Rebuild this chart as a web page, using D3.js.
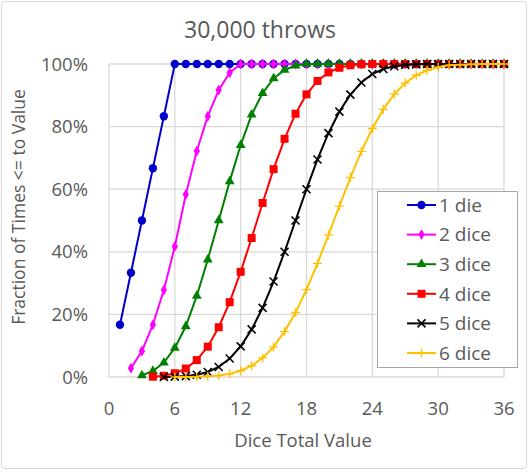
<!DOCTYPE html>
<html>
<head>
<meta charset="utf-8">
<script src="https://cdn.jsdelivr.net/npm/d3@7.9.0/dist/d3.min.js"></script>
<style>
  body { margin: 0; background: #fff; }
  svg { display: block; font-family: 'Open Sans', sans-serif; }
</style>
</head>
<body>
<svg id="chart" width="529" height="472"></svg>
<script>
// cumulative fraction (%) of throws with total <= value
const seriesNames = ['1 die', '2 dice', '3 dice', '4 dice', '5 dice', '6 dice'];
const startValues = [1, 2, 3, 4, 5, 6];
const oneDie = [16.7, 33.3, 50.0, 66.7, 83.3,
  100, 100, 100, 100, 100, 100, 100, 100, 100, 100, 100, 100, 100, 100, 100, 100,
  100, 100, 100, 100, 100, 100, 100, 100, 100, 100, 100, 100, 100, 100, 100];
const twoDice = [2.8, 8.3, 16.7, 27.8, 41.7, 58.3, 72.2, 83.3, 91.7, 97.2,
  100, 100, 100, 100, 100, 100, 100, 100, 100, 100, 100, 100, 100, 100, 100,
  100, 100, 100, 100, 100, 100, 100, 100, 100, 100];
const threeDice = [0.5, 1.9, 4.6, 9.3, 16.2, 25.9, 37.5, 50.0, 62.5, 74.1, 83.8, 90.7, 95.4, 98.1, 99.5,
  100, 100, 100, 100, 100, 100, 100, 100, 100, 100, 100, 100, 100, 100, 100, 100, 100, 100, 100];
const fourDice = [0.1, 0.4, 1.2, 2.7, 5.4, 9.7, 15.9, 23.9, 33.6, 44.4, 55.6, 66.4, 76.1, 84.1, 90.3,
  94.6, 97.3, 98.8, 99.6, 99.9,
  100, 100, 100, 100, 100, 100, 100, 100, 100, 100, 100, 100, 100];
const fiveDice = [0.0, 0.1, 0.3, 0.7, 1.6, 3.2, 5.9, 9.8, 15.2, 22.1, 30.5, 40.0, 50.0, 60.0, 69.5,
  77.9, 84.8, 90.2, 94.1, 96.8, 98.4, 99.3, 99.7, 99.9, 100,
  100, 100, 100, 100, 100, 100, 100];
const sixDice = [0.0, 0.0, 0.1, 0.2, 0.5, 1.0, 2.0, 3.6, 6.1, 9.6, 14.5, 20.6, 27.9, 36.3, 45.4,
  54.6, 63.7, 72.1, 79.4, 85.5, 90.4, 93.9, 96.4, 98.0, 99.0, 99.6, 99.8, 99.9, 100, 100, 100];
const seriesValues = [oneDie, twoDice, threeDice, fourDice, fiveDice, sixDice];
const xTicks = [0, 6, 12, 18, 24, 30, 36];
const yTicks = [0, 20, 40, 60, 80, 100];

const colors = ['#0000CC', '#FF00FF', '#008000', '#FF0000', '#000000', '#FFC000'];
const shapes = ['circle', 'diamond', 'triangle', 'square', 'x', 'plus'];

const svg = d3.select('#chart');
const margin = { left: 109, right: 25, top: 64, bottom: 95 };
const width = 529 - margin.left - margin.right;
const height = 472 - margin.top - margin.bottom;

const x = d3.scaleLinear().domain([0, 36]).range([margin.left, margin.left + width]);
const y = d3.scaleLinear().domain([0, 100]).range([margin.top + height, margin.top]);

svg.append('rect')
  .attr('x', 1.5).attr('y', 1.5)
  .attr('width', 525).attr('height', 467)
  .attr('rx', 3)
  .attr('fill', '#fff')
  .attr('stroke', '#d9d9d9');

// grid
const grid = svg.append('g');
yTicks.forEach(t => {
  grid.append('line')
    .attr('x1', x(0)).attr('x2', x(36))
    .attr('y1', y(t)).attr('y2', y(t))
    .attr('stroke', '#d9d9d9').attr('stroke-width', 1.3);
});
xTicks.forEach(t => {
  grid.append('line')
    .attr('x1', x(t)).attr('x2', x(t))
    .attr('y1', y(0)).attr('y2', y(100))
    .attr('stroke', '#d9d9d9').attr('stroke-width', 1.3);
});

// axis labels
svg.append('g').selectAll('text')
  .data(yTicks)
  .join('text')
  .attr('x', x(0) - 21)
  .attr('y', d => y(d))
  .attr('dy', '0.36em')
  .attr('text-anchor', 'end')
  .attr('fill', '#595959')
  .attr('font-size', 18.5)
  .text(d => d + '%');

svg.append('g').selectAll('text')
  .data(xTicks)
  .join('text')
  .attr('x', d => x(d))
  .attr('y', y(0) + 31)
  .attr('dy', '0.36em')
  .attr('text-anchor', 'middle')
  .attr('fill', '#595959')
  .attr('font-size', 18.5)
  .text(d => d);

svg.append('text')
  .attr('x', 260).attr('y', 38)
  .attr('text-anchor', 'middle')
  .attr('fill', '#595959')
  .attr('font-size', 23)
  .text('30,000 throws');

svg.append('text')
  .attr('x', 303).attr('y', 440)
  .attr('dy', '0.36em')
  .attr('text-anchor', 'middle')
  .attr('fill', '#595959')
  .attr('font-size', 18.5)
  .text('Dice Total Value');

svg.append('text')
  .attr('transform', 'translate(19,207) rotate(-90)')
  .attr('dy', '0.36em')
  .attr('text-anchor', 'middle')
  .attr('fill', '#595959')
  .attr('font-size', 17.5)
  .text('Fraction of Times <= to Value');

// marker drawing
const drawMarker = (g, shape, color, cx, cy) => {
  if (shape === 'x') {
    g.append('path')
      .attr('d', `M${cx - 4},${cy - 4}L${cx + 4},${cy + 4}M${cx - 4},${cy + 4}L${cx + 4},${cy - 4}`)
      .attr('stroke', color).attr('stroke-width', 1.6).attr('fill', 'none');
  } else if (shape === 'plus') {
    g.append('path')
      .attr('d', `M${cx - 4.5},${cy}L${cx + 4.5},${cy}M${cx},${cy - 4.5}L${cx},${cy + 4.5}`)
      .attr('stroke', color).attr('stroke-width', 1.3).attr('fill', 'none');
  } else {
    const type = {
      circle: d3.symbolCircle, diamond: d3.symbolDiamond,
      triangle: d3.symbolTriangle, square: d3.symbolSquare
    }[shape];
    const size = { circle: 55, diamond: 34, triangle: 42, square: 64 }[shape];
    g.append('path')
      .attr('d', d3.symbol().type(type).size(size)())
      .attr('transform', `translate(${cx},${cy})`)
      .attr('fill', color);
  }
};

const line = d3.line().x(d => x(d[0])).y(d => y(d[1]));

seriesValues.forEach((vals, i) => {
  const pts = vals.map((v, j) => [startValues[i] + j, v]);
  const g = svg.append('g');
  g.append('path')
    .attr('d', line(pts))
    .attr('fill', 'none')
    .attr('stroke', colors[i])
    .attr('stroke-width', 2);
  pts.forEach(p => drawMarker(g, shapes[i], colors[i], x(p[0]), y(p[1])));
});

// legend
const legend = svg.append('g');
legend.append('rect')
  .attr('x', 377.5).attr('y', 191.5)
  .attr('width', 140).attr('height', 176)
  .attr('fill', '#fff')
  .attr('stroke', '#a6a6a6');

seriesNames.forEach((name, i) => {
  const ly = 205 + i * 29.6;
  legend.append('line')
    .attr('x1', 407).attr('x2', 436)
    .attr('y1', ly).attr('y2', ly)
    .attr('stroke', colors[i]).attr('stroke-width', 2);
  drawMarker(legend, shapes[i], colors[i], 421.5, ly);
  legend.append('text')
    .attr('x', 439).attr('y', ly)
    .attr('dy', '0.36em')
    .attr('fill', '#595959')
    .attr('font-size', 19)
    .text(name);
});
</script>
</body>
</html>
